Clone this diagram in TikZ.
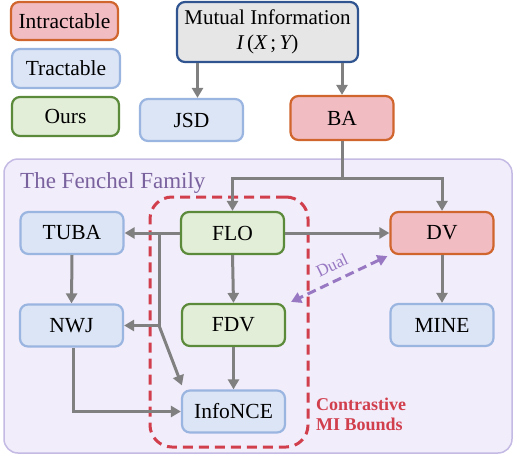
\documentclass[tikz,border=0pt]{standalone}
\usepackage{fontspec}
\setmainfont{Liberation Serif}
\usetikzlibrary{arrows.meta,calc}
\definecolor{intrfill}{HTML}{F2BCC3}
\definecolor{intrdraw}{HTML}{D0652D}
\definecolor{tracfill}{HTML}{DCE5F5}
\definecolor{tracdraw}{HTML}{9BB5E1}
\definecolor{oursfill}{HTML}{E2EED8}
\definecolor{oursdraw}{HTML}{5B8A3B}
\definecolor{mifill}{HTML}{E6E6E6}
\definecolor{midraw}{HTML}{2F5490}
\definecolor{bgfill}{HTML}{F1EDFB}
\definecolor{bgdraw}{HTML}{C4BAE3}
\definecolor{famtext}{HTML}{7A629E}
\definecolor{cmired}{HTML}{D13F4D}
\definecolor{dualcol}{HTML}{9878C2}
\definecolor{arrgray}{HTML}{808080}
\begin{document}
\begin{tikzpicture}[x=1pt,y=-1pt,
  box/.style={rounded corners=8pt, line width=2.2pt, minimum width=103pt, minimum height=42pt,
    inner sep=0pt, font=\rmfamily\fontsize{21.5}{25}\selectfont},
  intr/.style={box, fill=intrfill, draw=intrdraw},
  trac/.style={box, fill=tracfill, draw=tracdraw},
  ours/.style={box, fill=oursfill, draw=oursdraw},
  arr/.style={draw=arrgray, line width=3pt, -{Triangle[length=10pt,width=11pt]}},
  dual/.style={draw=dualcol, line width=3pt, dash pattern=on 9pt off 5pt,
    {Triangle[length=10pt,width=11pt]}-{Triangle[length=10pt,width=11pt]}},
]
\useasboundingbox (0,0) rectangle (516,458);
% background family
\node[fill=bgfill, draw=bgdraw, line width=1.5pt, rounded corners=14pt,
  minimum width=508pt, minimum height=294pt, inner sep=0pt] (fam) at (258,306) {};
\node[anchor=base west, inner sep=0pt, text=famtext, font=\rmfamily\fontsize{23}{27}\selectfont] (famlbl) at (20,188) {The Fenchel Family};
% contrastive region
\node[draw=cmired, line width=3pt, dash pattern=on 10pt off 6pt, rounded corners=22pt,
  minimum width=158pt, minimum height=250pt, inner sep=0pt] (cmi) at (229,322) {};
\node[anchor=west, align=left, inner sep=0pt, text=cmired, font=\rmfamily\bfseries\fontsize{18}{20}\selectfont] (cmilbl) at (316,414) {Contrastive\\MI Bounds};
% legend
\node[intr, minimum width=107pt, minimum height=38pt] (lintr) at (64.5,21) {Intractable};
\node[trac, minimum width=108pt, minimum height=39pt] (ltrac) at (66,68.5) {Tractable};
\node[ours, minimum width=107pt, minimum height=39pt] (lours) at (65.5,116.5) {Ours};
% top
\node[box, fill=mifill, draw=midraw, minimum width=181pt, minimum height=60pt, align=center,
  font=\rmfamily\fontsize{21}{25}\selectfont] (mi) at (267.5,32) {Mutual Information\\{\itshape I}\,({\itshape X}\,;\,{\itshape Y})};
\node[trac, minimum height=42pt] (jsd) at (191.5,120) {JSD};
\node[intr, minimum height=44pt] (ba) at (342,118) {BA};
% family nodes
\node[trac] (tuba) at (72,233) {TUBA};
\node[ours] (flo) at (232.5,233) {FLO};
\node[intr] (dv) at (442,233) {DV};
\node[trac] (nwj) at (71.5,325.5) {NWJ};
\node[ours] (fdv) at (233.5,325) {FDV};
\node[trac] (mine) at (442,325) {MINE};
\node[trac] (infonce) at (233.5,411.5) {InfoNCE};
% connectors
\draw[arr] ([xshift=-70pt]mi.south) -- ([xshift=-70pt]mi.south |- jsd.north);
\draw[arr] (mi.south -| ba.north) -- (ba.north);
\coordinate (j) at (342,178);
\draw[arr] (ba.south) -- (j) -| (flo.north);
\draw[arr] (j) -| (dv.north);
\draw[arr] (flo.west) -- (tuba.east);
\draw[arr] (flo.east) -- (dv.west);
\draw[arr] (flo.south) -- (fdv.north);
\coordinate (b1) at (159,233);
\coordinate (b2) at (159,325.5);
\draw[arr] (b1) -- (b2) -- (nwj.east);
\draw[arr] (b2) -- ([shift={(1,-4)}]infonce.north west);
\draw[arr] (tuba.south) -- (nwj.north);
\draw[arr] ([xshift=1.5pt]nwj.south) |- (infonce.west);
\draw[arr] (fdv.south) -- (infonce.north);
\draw[arr] (dv.south) -- (mine.north);
\draw[dual] ([shift={(-2,1)}]dv.south west) -- ([shift={(5,-1)}]fdv.north east);
\node[rotate=26, text=dualcol, inner sep=0pt, font=\rmfamily\fontsize{17}{20}\selectfont] (duallbl) at (332,265) {Dual};
\end{tikzpicture}
\end{document}
